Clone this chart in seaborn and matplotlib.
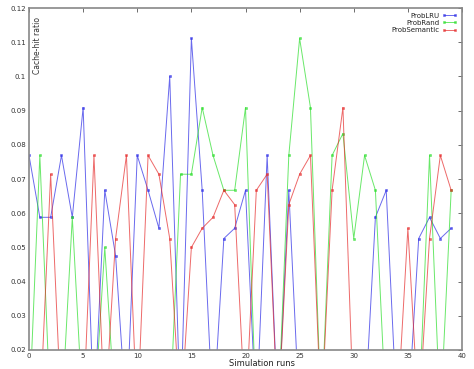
import numpy as np
import pandas as pd
import matplotlib
matplotlib.use("Agg")
import matplotlib.pyplot as plt
import seaborn as sns

runs = list(range(40))
prob_lru = [0.0769, 0.0588, 0.0588, 0.0769, 0.0588, 0.0909, 0, 0.0667, 0.0476, 0,
            0.0769, 0.0667, 0.0556, 0.1, 0, 0.1111, 0.0667, 0, 0.0526, 0.0556,
            0.0667, 0, 0.0769, 0, 0.0667, 0, 0, 0, 0, 0,
            0, 0, 0.0588, 0.0667, 0, 0, 0.0526, 0.0588, 0.0526, 0.0556]
prob_rand = [0, 0.0769, 0, 0, 0.0588, 0, 0, 0.05, 0, 0,
             0, 0, 0, 0, 0.0714, 0.0714, 0.0909, 0.0769, 0.0667, 0.0667,
             0.0909, 0, 0, 0, 0.0769, 0.1111, 0.0909, 0, 0.0769, 0.0833,
             0.0526, 0.0769, 0.0667, 0, 0, 0, 0, 0.0769, 0, 0.0667]
prob_semantic = [0, 0, 0.0714, 0, 0, 0, 0.0769, 0, 0.0526, 0.0769,
                 0, 0.0769, 0.0714, 0.0526, 0, 0.05, 0.0556, 0.0588, 0.0667, 0.0625,
                 0, 0.0667, 0.0714, 0, 0.0625, 0.0714, 0.0769, 0, 0.0667, 0.0909,
                 0, 0, 0, 0, 0, 0.0556, 0, 0.0526, 0.0769, 0.0667]
series_names = ["ProbLRU", "ProbRand", "ProbSemantic"]
x_ticks = [0, 5, 10, 15, 20, 25, 30, 35, 40]
y_ticks = [0.02, 0.03, 0.04, 0.05, 0.06, 0.07, 0.08, 0.09, 0.1, 0.11, 0.12]
y_tick_labels = ["0.02", "0.03", "0.04", "0.05", "0.06", "0.07", "0.08", "0.09", "0.1", "0.11", "0.12"]

df = pd.DataFrame({
    "run": runs * 3,
    "ratio": prob_lru + prob_rand + prob_semantic,
    "policy": [series_names[0]] * 40 + [series_names[1]] * 40 + [series_names[2]] * 40,
})

sns.set_style("white")
fig = plt.figure(figsize=(4.74, 3.69), dpi=100)
ax = fig.add_axes([29 / 474, 1 - 350 / 369, (462 - 29) / 474, (350 - 8) / 369])

palette = {"ProbLRU": "#2a2ae6", "ProbRand": "#2ade2a", "ProbSemantic": "#e62a2a"}
sns.lineplot(data=df, x="run", y="ratio", hue="policy", palette=palette,
             marker="s", markersize=1.6, linewidth=0.7,
             alpha=0.7, ax=ax, estimator=None, sort=False, legend=False)

for line in ax.lines:
    c = line.get_color()
    line.set_markeredgecolor(c)
    line.set_markerfacecolor(c)
    line.set_markeredgewidth(0.4)

ax.set_xlim(0, 40)
ax.set_ylim(0.02, 0.12)
ax.set_xticks(x_ticks)
ax.set_xticklabels([str(t) for t in x_ticks])
ax.set_yticks(y_ticks)
ax.set_yticklabels(y_tick_labels)
ax.tick_params(direction="in", length=3, width=0.6, colors="#555555",
               labelsize=5, top=True, right=True, labelcolor="#333333", pad=2)
for s in ax.spines.values():
    s.set_color("#888888")
    s.set_linewidth(1.2)
ax.set_xlabel("")
ax.set_ylabel("")

fig.text(38 / 474, 1 - 45 / 369, "Cache-hit ratio", rotation=90, ha="center",
         va="center", fontsize=5.5, color="#333333")
fig.text(262 / 474, 1 - 364 / 369, "Simulation runs", ha="center",
         va="center", fontsize=6, color="#222222")

leg = ax.legend(ax.lines[:3], series_names, loc="upper right", markerfirst=False,
                frameon=False, fontsize=5, handlelength=2.2, labelspacing=0.15,
                borderaxespad=0.3, handletextpad=0.4, numpoints=2)
for t in leg.get_texts():
    t.set_color("#222222")

fig.savefig("out.png", dpi=100)
